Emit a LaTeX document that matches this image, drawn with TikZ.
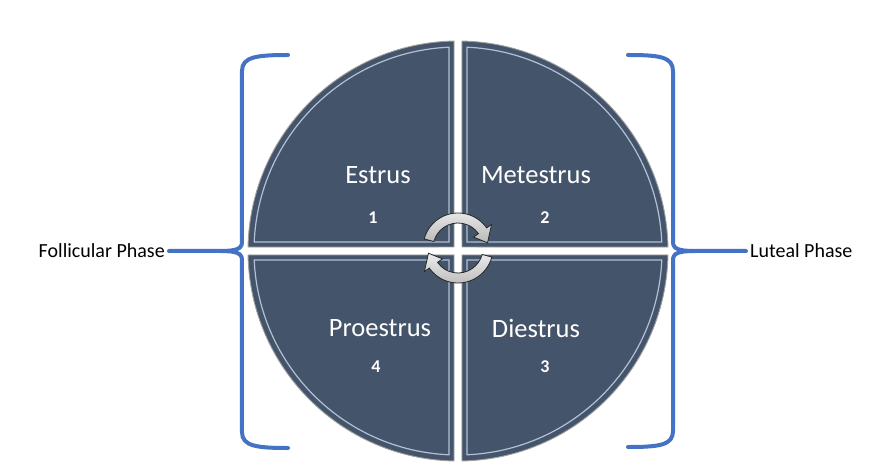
\documentclass[tikz,border=0pt]{standalone}
\usepackage{fontspec}
\setmainfont{Carlito}
\definecolor{slate}{HTML}{44546A}
\definecolor{braceblue}{HTML}{4472C4}
\definecolor{bevel}{HTML}{B4C0D4}
\tikzset{
  quadrant/.style={fill=slate, draw=gray!75, line width=0.9pt},
  highlight/.style={draw=bevel, line width=1.2pt},
  stage/.style={text=white, font=\fontsize{26.5}{30}\selectfont, inner sep=0pt},
  num/.style={text=white, font=\fontsize{18}{21}\selectfont\bfseries, inner sep=0pt},
  phase/.style={font=\fontsize{20}{24}\selectfont, inner sep=4pt},
  bracket/.style={draw=braceblue, line width=4pt, line cap=round},
  cyclearrow/.style={top color=gray!15, bottom color=gray!55, draw=gray!30!black, line width=0.8pt}
}
\begin{document}
\begin{tikzpicture}[x=1pt, y=1pt]
    \useasboundingbox (-458,-220) rectangle (436,251);

    % Quadrants
    \foreach \sx/\sy in {1/1,-1/1,-1/-1,1/-1} {
      \begin{scope}[xscale=\sx, yscale=\sy]
        \pgfmathsetmacro{\a}{asin(4/210)}
        \pgfmathsetmacro{\b}{asin(9/204)}
        \path[quadrant] (4,4) -- (\a:210) arc[start angle=\a, end angle=90-\a, radius=210] -- cycle;
        \path[highlight] (9,9) -- (\b:204) arc[start angle=\b, end angle=90-\b, radius=204] -- cycle;
      \end{scope}
    }

    % Stage labels
    \node (estrus) [stage] at (-80,76) {Estrus};
    \node (metestrus) [stage] at (78,76) {Metestrus};
    \node (proestrus) [stage] at (-78,-77) {Proestrus};
    \node (diestrus) [stage] at (78,-77) {Diestrus};
    \node (n1) [num] at (-85,33) {1};
    \node (n2) [num] at (87,33) {2};
    \node (n4) [num] at (-82,-116) {4};
    \node (n3) [num] at (87,-116) {3};

    % Cycle arrows
    \begin{scope}[shift={(0,3)}]
      \path[cyclearrow] (165:35) arc[start angle=165, end angle=35, radius=35] -- (35:41) -- (10:30) -- (35:19) -- (35:25) arc[start angle=35, end angle=165, radius=25] -- cycle;
      \path[cyclearrow] (345:35) arc[start angle=345, end angle=215, radius=35] -- (215:41) -- (190:30) -- (215:19) -- (215:25) arc[start angle=215, end angle=345, radius=25] -- cycle;
    \end{scope}

    % Phase labels
    \node (follicular) [phase, anchor=east] at (-289,0) {Follicular Phase};
    \node (luteal) [phase, anchor=west] at (288,0) {Luteal Phase};

    % Brackets
    \draw[bracket] (-170,196) .. controls (-202,196) and (-216,194) .. (-216,180) -- (-216,9) .. controls (-216,2) and (-222,0) .. (-238,0) -- (follicular.east);
    \draw[bracket] (-170,-197) .. controls (-202,-197) and (-216,-195) .. (-216,-181) -- (-216,-9) .. controls (-216,-2) and (-222,0) .. (-238,0);
    \draw[bracket] (170,196) .. controls (202,196) and (215,194) .. (215,180) -- (215,9) .. controls (215,2) and (221,0) .. (237,0) -- (luteal.west);
    \draw[bracket] (170,-196) .. controls (202,-196) and (215,-194) .. (215,-180) -- (215,-9) .. controls (215,-2) and (221,0) .. (237,0);
\end{tikzpicture}
\end{document}
